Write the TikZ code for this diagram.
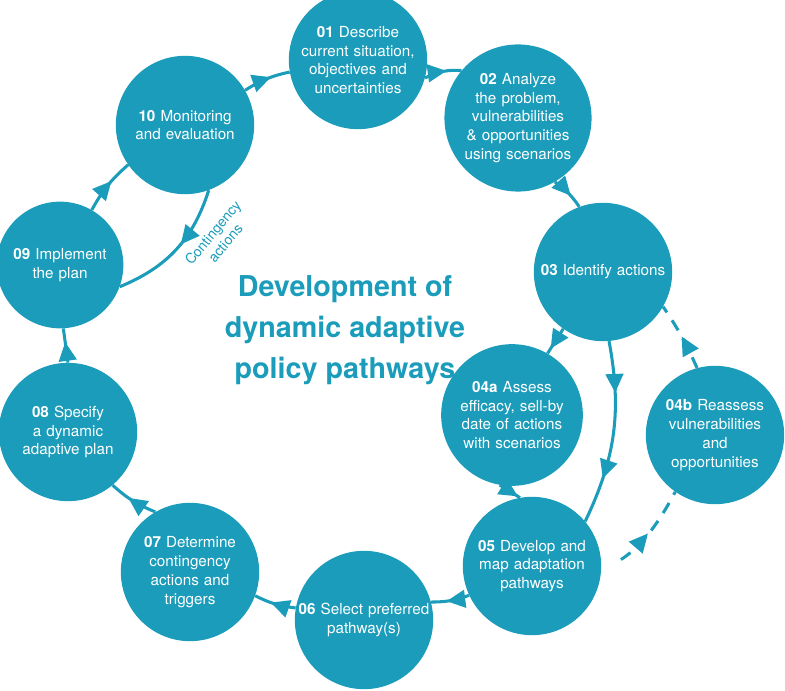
\documentclass[tikz,border=0pt]{standalone}
\usepackage{fontspec}
\setmainfont{TeX Gyre Heros}
\usetikzlibrary{arrows.meta,decorations.markings}
\definecolor{teal1}{HTML}{1A9CBA}
\hyphenpenalty=10000
\exhyphenpenalty=10000
\begin{document}
\begin{tikzpicture}[x=0.03cm,y=0.03cm,
  st/.style={circle,fill=teal1,text=white,minimum size=4.15cm,inner sep=0pt,align=center,text width=3.5cm,font=\fontsize{13}{16}\selectfont},
  ar/.style={line width=2.6pt,teal1,decoration={markings,mark=at position #1 with {\arrow{Triangle[length=16pt,width=15pt]}}},postaction={decorate}},
  ar/.default=0.6,
  dsh/.style={ar=#1,dash pattern=on 10pt off 8pt},
  dsh/.default=0.6]
\useasboundingbox (0,0) rectangle (785,690);
\node[st] (n01) at (358,{690-60}) {\textbf{01} Describe current situation, objectives and uncertainties};
\node[st] (n02) at (518,{690-118}) {\textbf{02} Analyze the problem, vulnerabilities \& opportunities using scenarios};
\node[st,text width=4cm] (n03) at (603,{690-272}) {\textbf{03} Identify actions};
\node[st,minimum size=4.25cm] (n04a) at (512,{690-415}) {\textbf{04a} Assess efficacy, sell-by date of actions with scenarios};
\node[st] (n04b) at (715,{690-435}) {\textbf{04b} Reassess vulnerabilities and opportunities};
\node[st] (n05) at (532,{690-566}) {\textbf{05} Develop and map adaptation pathways};
\node[st,text width=3.95cm] (n06) at (364,{690-620}) {\textbf{06} Select preferred pathway(s)};
\node[st] (n07) at (190,{690-572}) {\textbf{07} Determine contingency actions and triggers};
\node[st] (n08) at (68,{690-432}) {\textbf{08} Specify a dynamic adaptive plan};
\node[st,minimum size=3.8cm] (n09) at (60,{690-265}) {\textbf{09} Implement the plan};
\node[st] (n10) at (185,{690-125}) {\textbf{10} Monitoring and evaluation};
\node[text=teal1,align=center,font=\fontsize{24.5}{35}\selectfont\bfseries] (title) at (345,{690-330}) {Development of\\dynamic adaptive\\policy pathways};
\node[text=teal1,align=center,rotate=50,font=\fontsize{12}{14}\selectfont] (cont) at (219,{690-238}) {Contingency\\actions};
\draw[ar] (n01.-15) to[bend left=15] (n02.140);
\draw[ar] (n02.-60) to[bend left=10] (n03.110);
\draw[ar=0.8] (n03.235) to (n04a.60);
\draw[line width=2.6pt,teal1,decoration={markings,mark=at position 0.28 with {\arrow{Triangle[length=16pt,width=15pt]}},mark=at position 0.75 with {\arrow{Triangle[length=16pt,width=15pt]}}},postaction={decorate}] (n03.275) to[bend left=18] (n05.40);
\draw[ar=0.9] (n04a.260) to (n05.100);
\draw[dsh=0.5] (n04b.105) to[bend right=5] (n03.-30);
\draw[dsh=0.55,shorten <=20pt] (n05.-5) to[bend right=15] (n04b.235);
\draw[ar] (n05.205) to[bend left=10] (n06.15);
\draw[ar] (n06.170) to[bend left=10] (n07.-20);
\draw[ar] (n07.120) to[bend left=10] (n08.-50);
\draw[ar] (n08.90) to (n09.-87);
\draw[ar] (n09.60) to[bend left=10] (n10.215);
\draw[ar] (n10.30) to[bend left=10] (n01.190);
\draw[ar=0.45] (n10.-70) to[bend left=25] (n09.-20);
\end{tikzpicture}
\end{document}
